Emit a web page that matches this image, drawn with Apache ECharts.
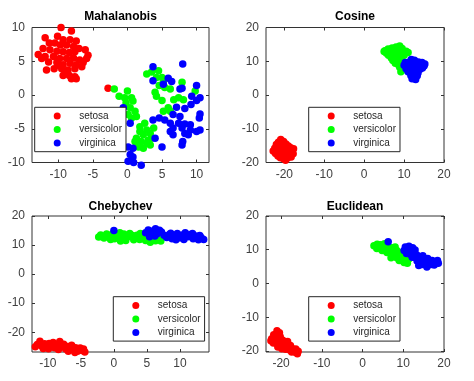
<!DOCTYPE html>
<html>
<head>
<meta charset="utf-8">
<script src="https://cdn.jsdelivr.net/npm/echarts@6/dist/echarts.min.js"></script>
<style>
html,body{margin:0;padding:0;background:#fff;}
#c{width:474px;height:381px;}
</style>
</head>
<body>
<div id="c"></div>
<script>
const classNames = ['setosa', 'versicolor', 'virginica'];
const titles = ['Mahalanobis', 'Cosine', 'Chebychev', 'Euclidean'];

// Mahalanobis
const mahaSetosa = [[-9.6,10.0],[-8.1,9.5],[-11.9,8.5],[-10.1,8.7],[-9.3,8.2],[-8.3,8.2],[-7.4,8.0],[-11.3,7.7],[-10.5,7.7],[-9.7,7.4],[-8.8,7.4],[-7.8,7.2],[-7.0,6.9],[-12.2,6.9],[-11.2,6.7],[-10.2,6.5],[-9.3,6.4],[-8.4,6.3],[-7.6,6.4],[-6.1,6.7],[-5.7,5.9],[-12.9,6.0],[-11.9,5.7],[-10.7,5.7],[-9.8,5.4],[-8.8,5.4],[-7.8,5.5],[-6.9,5.2],[-5.9,5.4],[-12.4,5.4],[-11.4,4.9],[-10.2,4.8],[-9.3,4.5],[-8.3,4.7],[-7.4,4.5],[-6.4,4.8],[-11.7,3.7],[-10.6,3.9],[-9.5,3.9],[-8.6,3.7],[-7.6,3.9],[-6.6,4.2],[-9.3,2.9],[-8.4,2.9],[-7.6,2.7],[-9.0,3.2],[-8.1,2.4],[-7.4,2.4],[-10.0,4.4],[-2.8,1.0]];
const mahaVersicolor = [[-1.9,0.9],[0.0,0.6],[-1.2,-0.2],[-0.4,-0.4],[0.6,-0.4],[-0.2,-1.2],[0.8,-0.9],[0.4,-1.9],[1.1,-2.4],[0.1,-2.9],[1.3,-3.2],[0.6,-3.4],[2.8,3.1],[3.5,3.4],[4.5,3.6],[4.2,2.6],[5.0,2.6],[5.2,1.9],[4.6,1.4],[5.4,1.1],[4.0,0.4],[4.2,-0.2],[5.0,-0.8],[6.2,0.9],[6.7,-0.7],[7.4,-0.4],[7.9,1.9],[8.1,-0.7],[9.8,0.6],[5.2,-2.4],[5.9,-1.9],[6.2,-2.4],[1.8,-4.7],[2.5,-4.2],[2.8,-5.2],[1.8,-5.4],[1.3,-6.4],[2.3,-5.9],[3.3,-5.7],[3.5,-6.4],[1.1,-6.9],[2.0,-6.9],[2.8,-7.2],[1.6,-7.7],[2.3,-7.9],[3.3,-7.4],[3.0,-6.7],[3.8,-4.9]];
const mahaVirginica = [[3.7,4.2],[8.0,4.6],[3.7,2.1],[5.9,2.5],[6.4,2.0],[7.9,1.0],[10.0,1.4],[7.6,0.9],[9.3,-0.2],[10.5,-0.4],[10.0,-0.8],[7.1,-1.8],[8.3,-2.0],[6.6,-2.9],[7.6,-3.2],[10.5,-2.8],[10.4,-3.4],[3.7,-3.7],[4.6,-3.4],[5.4,-3.7],[6.2,-4.2],[7.4,-4.2],[8.3,-4.3],[9.1,-4.4],[6.6,-4.9],[7.9,-4.9],[9.1,-5.2],[10.5,-5.2],[6.2,-5.4],[6.6,-5.9],[8.3,-5.7],[8.8,-5.9],[10.0,-5.4],[4.0,-6.4],[8.0,-6.9],[7.9,-7.4],[5.0,-7.7],[-0.6,-1.9],[0.4,-4.2],[0.1,-7.7],[0.8,-7.9],[0.4,-8.8],[0.8,-9.2],[0.1,-9.8],[0.9,-10.0],[2.0,-10.4],[5.2,1.6],[9.2,-1.4]];

// Cosine
const cosSetosa = [[-20.9,-13.2],[-20.2,-13.8],[-21.5,-14.0],[-19.6,-14.5],[-20.6,-14.6],[-21.8,-15.0],[-19.0,-15.1],[-20.0,-15.3],[-21.0,-15.5],[-22.4,-15.8],[-18.4,-15.6],[-19.5,-16.0],[-20.5,-16.2],[-21.5,-16.3],[-22.8,-16.6],[-18.0,-16.4],[-19.0,-16.8],[-20.1,-17.0],[-21.2,-17.1],[-22.2,-17.3],[-17.8,-17.4],[-18.7,-17.6],[-19.6,-17.8],[-20.6,-18.0],[-21.6,-18.1],[-18.3,-18.4],[-19.2,-18.7],[-20.2,-18.9],[-19.7,-19.3],[-21.0,-18.6],[-17.7,-15.9],[-22.0,-14.7]];
const cosVersicolor = [[5.2,13.1],[6.0,13.6],[7.0,13.9],[8.0,14.2],[8.9,14.5],[9.5,13.8],[10.5,13.0],[11.0,12.6],[5.6,12.4],[6.5,12.8],[7.5,13.0],[8.5,13.2],[9.8,12.7],[6.1,11.8],[7.0,12.0],[8.0,12.2],[9.0,12.0],[6.8,11.0],[7.7,11.3],[8.6,11.0],[9.3,11.2],[7.2,10.2],[8.1,10.4],[9.0,10.0],[7.8,9.4],[8.6,9.0],[9.3,9.3],[8.9,8.2],[9.5,7.5],[9.2,6.9],[5.0,12.9],[10.0,11.8]];
const cosVirginica = [[11.8,10.5],[12.6,10.3],[13.6,9.8],[14.5,9.6],[15.2,9.2],[10.3,9.6],[11.2,9.7],[12.2,9.5],[13.1,9.2],[14.0,8.9],[15.0,8.6],[10.0,8.8],[10.9,8.6],[11.8,8.5],[12.7,8.4],[13.6,8.2],[10.5,7.8],[11.4,7.6],[12.3,7.5],[13.2,7.3],[14.0,7.6],[11.0,6.9],[11.9,6.7],[12.8,6.5],[13.5,6.6],[11.7,5.8],[12.5,5.5],[13.3,5.7],[12.0,4.8],[12.9,4.6],[11.5,9.0],[14.6,8.0]];

// Chebychev
const chebSetosa = [[-11.6,-24.2],[-11.2,-23.1],[-10.9,-24.8],[-10.5,-24.0],[-10.1,-25.0],[-9.8,-23.9],[-9.4,-24.6],[-9.0,-25.3],[-8.6,-24.2],[-8.2,-23.2],[-7.9,-25.0],[-7.6,-24.1],[-7.3,-25.8],[-7.0,-24.9],[-6.7,-25.6],[-6.4,-24.5],[-6.1,-26.2],[-5.8,-25.3],[-5.5,-26.5],[-5.1,-25.4],[-4.8,-26.3],[-4.4,-26.8],[-10.7,-25.6],[-9.2,-23.5],[-8.4,-25.9],[-6.9,-26.5],[-11.9,-25.0],[-5.9,-27.0],[-4.6,-25.8],[-9.9,-25.7]];
const chebVersicolor = [[-2.3,12.8],[-2.0,13.5],[-1.5,12.4],[-1.1,13.8],[-0.7,12.9],[-0.3,13.6],[0.1,12.2],[0.5,13.1],[0.9,14.2],[1.2,12.7],[1.5,13.8],[1.8,11.6],[2.1,12.9],[2.4,14.0],[1.0,11.4],[3.2,12.6],[3.5,13.4],[3.9,11.9],[4.2,12.8],[4.5,13.5],[4.8,11.6],[5.1,12.4],[5.5,11.0],[5.9,12.2],[6.3,11.5],[6.7,12.1],[7.1,11.4],[3.0,11.8],[4.0,14.0],[5.6,13.1],[-0.5,11.9],[2.8,13.3]];
const chebVirginica = [[0.0,15.0],[4.8,14.2],[5.2,15.2],[5.6,13.6],[5.9,14.8],[6.3,15.6],[6.6,14.0],[6.9,15.1],[5.4,12.9],[6.2,13.1],[7.6,13.4],[8.0,12.6],[8.4,13.6],[8.8,12.2],[9.2,13.1],[9.6,14.0],[10.0,12.5],[10.4,13.5],[10.8,14.2],[11.2,12.9],[11.6,13.6],[12.0,12.2],[12.4,13.1],[12.8,11.8],[13.2,12.6],[13.6,11.9],[9.4,11.8],[10.6,11.9],[8.6,14.1],[11.9,14.0],[13.0,13.3],[7.2,14.5]];

// Euclidean
const eucSetosa = [[-21.0,-14.0],[-20.4,-14.6],[-21.8,-15.2],[-21.0,-15.6],[-20.2,-15.8],[-22.3,-16.4],[-21.4,-16.6],[-20.5,-17.0],[-19.6,-16.8],[-21.9,-17.6],[-20.9,-17.9],[-20.0,-18.1],[-19.1,-17.8],[-18.4,-17.2],[-19.4,-18.8],[-18.5,-18.6],[-17.7,-18.4],[-18.9,-19.5],[-18.0,-19.6],[-17.2,-19.3],[-16.4,-19.4],[-17.4,-20.3],[-16.5,-20.4],[-15.8,-20.1],[-19.8,-19.3],[-20.8,-18.8],[-22.5,-17.0],[-16.0,-20.8]];
const eucVersicolor = [[2.8,11.2],[3.6,11.6],[4.4,11.5],[3.5,10.4],[4.3,10.6],[5.2,11.0],[6.0,11.2],[4.8,9.8],[5.6,10.0],[6.4,10.3],[7.2,10.6],[8.0,10.8],[6.0,9.2],[6.8,9.4],[7.6,9.6],[8.4,9.8],[7.2,8.5],[8.0,8.6],[8.8,8.9],[9.6,9.2],[8.4,7.6],[9.2,7.9],[10.0,8.2],[10.8,8.5],[9.0,6.8],[9.8,7.0],[10.6,7.3],[11.3,7.2],[10.2,6.2],[11.0,6.0],[5.4,11.8],[7.0,7.6]];
const eucVirginica = [[6.3,12.4],[10.5,10.8],[11.4,11.0],[12.3,10.6],[10.2,9.8],[11.1,9.9],[12.0,9.6],[12.9,9.9],[10.8,8.9],[11.7,8.7],[12.6,8.8],[13.4,8.4],[12.2,7.8],[13.1,7.6],[14.0,7.9],[14.8,8.2],[13.4,6.7],[14.3,6.6],[15.2,7.1],[16.0,7.4],[14.6,5.6],[15.5,5.8],[16.3,6.3],[17.1,6.8],[17.8,6.4],[18.6,6.0],[16.8,5.6],[17.6,5.5],[18.4,6.8],[15.8,4.9],[13.8,5.3],[11.5,10.4]];

// axis limits and tick values per panel
const xLimits = [[-13.8, 11.8], [-24.6, 20], [-12.4, 14.4], [-23.7, 20]];
const yLimits = [[-10, 10], [-20, 20], [-26.8, 20], [-20.3, 20]];
const xTicks = [[-10, -5, 0, 5, 10], [-20, -10, 0, 10, 20], [-10, -5, 0, 5, 10], [-20, -10, 0, 10, 20]];
const yTicks = [[-10, -5, 0, 5, 10], [-20, -10, 0, 10, 20], [-20, -10, 0, 10, 20], [-20, -10, 0, 10, 20]];

const panelData = [
  [mahaSetosa, mahaVersicolor, mahaVirginica],
  [cosSetosa, cosVersicolor, cosVirginica],
  [chebSetosa, chebVersicolor, chebVirginica],
  [eucSetosa, eucVersicolor, eucVirginica]
];

const colors = ['#ff0000', '#00ff00', '#0000ff'];
const FONT = '"Liberation Sans", Arial, Helvetica, sans-serif';
const grids = [
  {left: 32, top: 27.5, width: 177, height: 135},
  {left: 266, top: 27.5, width: 178, height: 135},
  {left: 32, top: 216, width: 177, height: 136},
  {left: 266, top: 216, width: 178, height: 136}
];
const legendPos = [
  {left: 34.7, top: 107.3},
  {left: 308.7, top: 107.3},
  {left: 113.3, top: 296.7},
  {left: 308.7, top: 296.7}
];
const titlePos = [[120.5, 16.7], [355, 16.7], [120.5, 206.5], [355, 206.5]];

const xAxes = [], yAxes = [], series = [], legends = [], graphics = [];
grids.forEach((g, i) => {
  const tickX = {show: true, inside: true, length: 3, customValues: xTicks[i], lineStyle: {color: '#333', width: 1}};
  const tickY = {show: true, inside: true, length: 3, customValues: yTicks[i], lineStyle: {color: '#333', width: 1}};
  const base = {gridIndex: i, type: 'value', splitLine: {show: false}, axisLine: {show: false, onZero: false}};
  const lab = {fontSize: 12, color: '#404040', fontFamily: FONT};
  xAxes.push(Object.assign({}, base, {
    position: 'bottom', min: xLimits[i][0], max: xLimits[i][1],
    axisTick: tickX,
    axisLabel: Object.assign({customValues: xTicks[i], margin: 6}, lab)
  }));
  xAxes.push(Object.assign({}, base, {
    position: 'top', min: xLimits[i][0], max: xLimits[i][1],
    axisTick: tickX, axisLabel: {show: false}
  }));
  yAxes.push(Object.assign({}, base, {
    position: 'left', min: yLimits[i][0], max: yLimits[i][1],
    axisTick: tickY,
    axisLabel: Object.assign({customValues: yTicks[i], margin: 7}, lab)
  }));
  yAxes.push(Object.assign({}, base, {
    position: 'right', min: yLimits[i][0], max: yLimits[i][1],
    axisTick: tickY, axisLabel: {show: false}
  }));
  panelData[i].forEach((d, k) => {
    series.push({
      type: 'scatter', name: classNames[k], xAxisIndex: i * 2, yAxisIndex: i * 2,
      data: d, symbol: 'circle', symbolSize: 7.5, clip: false,
      itemStyle: {color: colors[k], opacity: 1}, emphasis: {disabled: true}, silent: true
    });
  });
  legends.push({
    data: classNames, orient: 'vertical', left: legendPos[i].left, top: legendPos[i].top,
    icon: 'circle', itemWidth: 34, itemHeight: 7, itemGap: 1.5,
    padding: [2.7, 4, 2.7, 19], backgroundColor: '#fff', borderColor: '#262626', borderWidth: 1,
    selectedMode: false,
    textStyle: {fontSize: 10, color: '#262626', fontFamily: FONT, lineHeight: 12}
  });
  graphics.push({
    type: 'text', x: titlePos[i][0], y: titlePos[i][1],
    style: {text: titles[i], font: 'bold 12px ' + FONT, fill: '#000', align: 'center', verticalAlign: 'middle', textAlign: 'center', textVerticalAlign: 'middle'}
  });
});

const chart = echarts.init(document.getElementById('c'), null, {renderer: 'canvas'});
chart.setOption({
  animation: false,
  backgroundColor: '#fff',
  grid: grids.map(g => Object.assign({show: true, borderColor: '#333', borderWidth: 1, backgroundColor: '#fff'}, g)),
  xAxis: xAxes,
  yAxis: yAxes,
  legend: legends,
  graphic: graphics,
  series: series
});
</script>
</body>
</html>
